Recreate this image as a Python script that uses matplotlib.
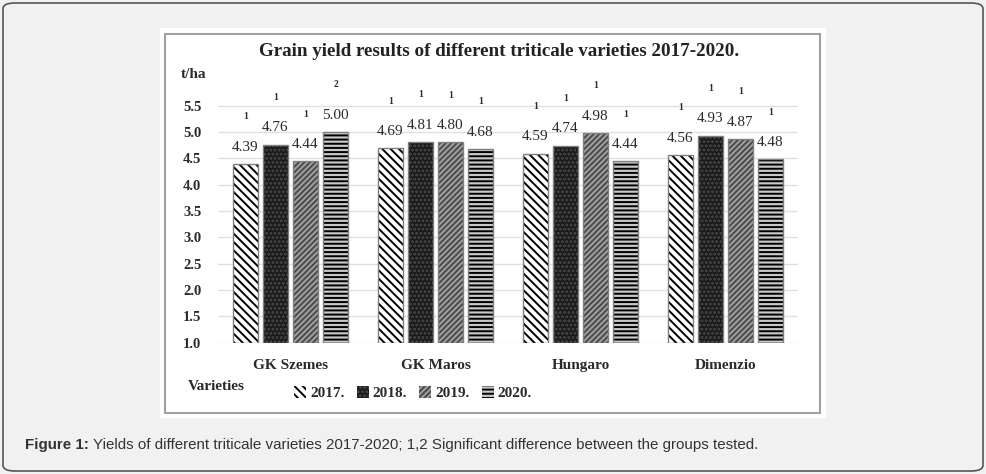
import numpy as np
import matplotlib.pyplot as plt
from matplotlib.patches import FancyBboxPatch, Rectangle, Patch

varieties = ["GK Szemes", "GK Maros", "Hungaro", "Dimenzio"]
years = ["2017.", "2018.", "2019.", "2020."]
y2017 = [4.39, 4.69, 4.59, 4.56]
y2018 = [4.76, 4.81, 4.74, 4.93]
y2019 = [4.44, 4.80, 4.98, 4.87]
y2020 = [5.00, 4.68, 4.44, 4.48]
sig2017 = ["1", "1", "1", "1"]
sig2018 = ["1", "1", "1", "1"]
sig2019 = ["1", "1", "1", "1"]
sig2020 = ["2", "1", "1", "1"]

W, H = 986, 474
fig = plt.figure(figsize=(W / 100, H / 100), dpi=100)
fig.patch.set_facecolor("#f1f1f1")


def fx(px):
    return px / W


def fy(py):
    return 1 - py / H


# outer rounded frame and white chart panel
fig.patches.append(FancyBboxPatch((fx(3), fy(471)), fx(980), 468 / H,
                                  boxstyle="round,pad=0,rounding_size=0.012",
                                  transform=fig.transFigure, facecolor="#f1f1f1",
                                  edgecolor="#555555", linewidth=1.2, zorder=-10))
fig.patches.append(Rectangle((fx(160), fy(418)), fx(666), 390 / H,
                             transform=fig.transFigure, facecolor="white",
                             edgecolor="none", zorder=-9))
fig.patches.append(Rectangle((fx(165), fy(413)), fx(655), 379 / H,
                             transform=fig.transFigure, facecolor="none",
                             edgecolor="#a0a0a0", linewidth=1.5, zorder=-8))

serif = "Liberation Serif"
tc = "#2a2a2a"

ax = fig.add_axes([fx(218), fy(342.7), fx(580), (342.7 - 74) / H])
ax.set_facecolor("none")
ax.set_xlim(-0.5, 3.5)
ax.set_ylim(1.0, 6.1)
ticks = np.arange(1.0, 5.51, 0.5)
for t in ticks:
    ax.axhline(t, color="#e0e0e0", linewidth=1, zorder=0)
ax.set_yticks(ticks)
ax.set_yticklabels([f"{t:.1f}" for t in ticks], fontfamily=serif,
                   fontweight="bold", fontsize=10.5, color=tc)
ax.set_xticks(range(len(varieties)))
ax.set_xticklabels(varieties, fontfamily=serif, fontweight="bold",
                   fontsize=11, color=tc)
ax.tick_params(length=0, axis="y", pad=12)
ax.tick_params(length=0, axis="x", pad=12)
for s in ax.spines.values():
    s.set_visible(False)

series = [y2017, y2018, y2019, y2020]
sigs = [sig2017, sig2018, sig2019, sig2020]
styles = [
    dict(facecolor="white", hatch="\\\\\\\\", hc="black"),
    dict(facecolor="#1a1a1a", hatch="....", hc="#4a4a4a"),
    dict(facecolor="#a0a0a0", hatch="//////", hc="#4a4a4a"),
    dict(facecolor="#c8c8c8", hatch="----", hc="black"),
]
plt.rcParams["hatch.linewidth"] = 1.4

step, width = 0.207, 0.172
x = np.arange(len(varieties))
for i, (vals, st, sg) in enumerate(zip(series, styles, sigs)):
    pos = x + (i - 1.5) * step
    heights = np.array(vals) - 1.0
    ax.bar(pos, heights, width, bottom=1.0, color=st["facecolor"],
           hatch=st["hatch"], edgecolor=st["hc"], linewidth=0, zorder=2)
    ax.bar(pos, heights, width, bottom=1.0, facecolor="none",
           edgecolor="#808080", linewidth=1, zorder=3)
    for p, v, s in zip(pos, vals, sg):
        ax.annotate(f"{v:.2f}", (p, v), xytext=(0, 12), textcoords="offset points",
                    ha="center", va="center", fontfamily=serif, fontsize=11,
                    color=tc)
        ax.annotate(s, (p, v), xytext=(0, 34), textcoords="offset points",
                    ha="center", va="center", fontfamily=serif, fontsize=7,
                    fontweight="bold", color=tc)

fig.text(fx(499), fy(52), "Grain yield results of different triticale varieties 2017-2020.",
         ha="center", va="center", fontfamily=serif, fontweight="bold",
         fontsize=13.7, color="#222222")
fig.text(fx(181), fy(74), "t/ha", ha="left", va="center", fontfamily=serif,
         fontweight="bold", fontsize=11, color=tc)
fig.text(fx(188), fy(387), "Varieties", ha="left", va="center", fontfamily=serif,
         fontweight="bold", fontsize=11, color=tc)

handles = [Patch(facecolor=st["facecolor"], hatch=st["hatch"], edgecolor=st["hc"],
                 linewidth=0) for st in styles]
fig.legend(handles, years, loc="center", bbox_to_anchor=(fx(413), fy(393)),
           ncol=4, frameon=False, handlelength=0.8, handleheight=0.8,
           handletextpad=0.25, columnspacing=0.8,
           prop=dict(family=serif, weight="bold", size=11), labelcolor=tc)

t1 = fig.text(fx(25), fy(449), "Figure 1:", ha="left", va="baseline",
              fontfamily="Liberation Sans", fontweight="bold", fontsize=10.9,
              color="#333333")
ax.annotate(" Yields of different triticale varieties 2017-2020; 1,2 Significant "
            "difference between the groups tested.", xy=(1, 0), xycoords=t1,
            ha="left", va="bottom", fontfamily="Liberation Sans", fontsize=10.9,
            color="#333333", annotation_clip=False)

fig.savefig("out.png", dpi=100, facecolor=fig.get_facecolor())
